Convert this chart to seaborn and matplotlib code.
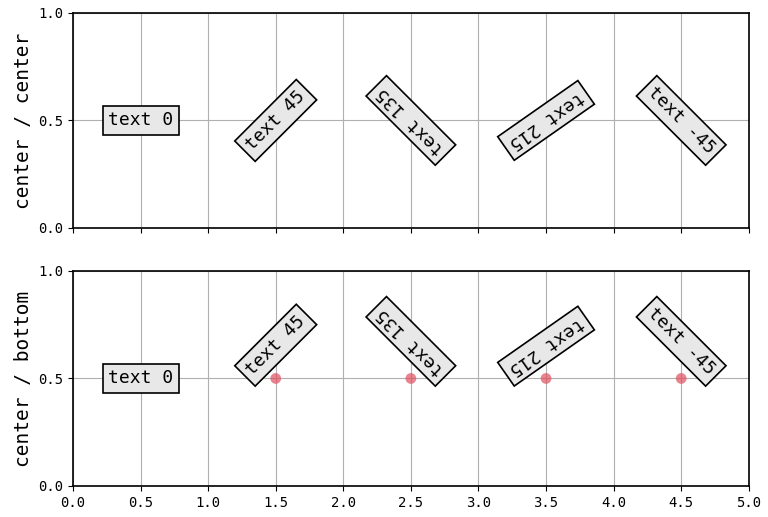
import matplotlib
matplotlib.use("Agg")
import matplotlib.pyplot as plt
import seaborn as sns

sns.set_style("ticks")
plt.rcParams['font.family'] = ['DejaVu Sans Mono', 'DejaVu Sans']
plt.rcParams['text.color'] = 'black'
plt.rcParams['xtick.color'] = 'black'
plt.rcParams['ytick.color'] = 'black'
plt.rcParams['axes.labelcolor'] = 'black'

x_pos = [0.5, 1.5, 2.5, 3.5, 4.5]
y_pos = [0.5, 0.5, 0.5, 0.5, 0.5]
rotations = [0, 45, 135, 215, -45]
alignments = [("center", "center"), ("center", "bottom")]

fig, axes = plt.subplots(2, 1, figsize=(7.68, 5.17), dpi=100, sharex=True)
fig.subplots_adjust(left=0.095, right=0.975, top=0.975, bottom=0.06, hspace=0.2)

for ax, (ha, va) in zip(axes, alignments):
    ax.grid(True, color="#b0b0b0", linewidth=0.8)
    ax.set_axisbelow(True)
    sns.scatterplot(x=x_pos, y=y_pos, ax=ax, color="#e05060", alpha=0.7,
                    s=60, edgecolor="none", zorder=1)
    for x, y, rot in zip(x_pos, y_pos, rotations):
        this_va = "center" if rot == 0 else va
        ax.text(x, y, f"text {rot}", rotation=rot, ha=ha, va=this_va,
                fontsize=13, zorder=3,
                bbox=dict(boxstyle="square,pad=0.3", facecolor="#e8e8e8",
                          edgecolor="black", linewidth=1.2))
    ax.set_xlim(0, 5)
    ax.set_ylim(0, 1)
    ax.set_xticks([i * 0.5 for i in range(11)])
    ax.set_yticks([0, 0.5, 1.0])
    ax.set_ylabel(f"{ha} / {va}", fontsize=14)
    for s in ax.spines.values():
        s.set_color("black")
        s.set_linewidth(1.2)

plt.savefig("out.png", dpi=100)
